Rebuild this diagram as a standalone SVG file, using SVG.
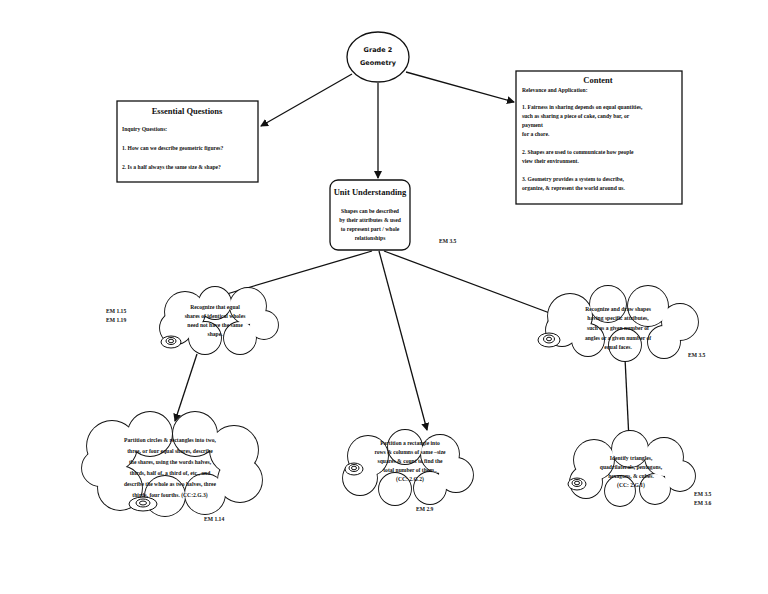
<svg xmlns="http://www.w3.org/2000/svg" xmlns:xlink="http://www.w3.org/1999/xlink" width="768" height="594" viewBox="0 0 768 594">
<style>
text{font-family:"Liberation Serif",serif;font-weight:bold;fill:#111;font-size:5.6px}
.t{font-size:8.5px}
.m{text-anchor:middle}
.box{fill:#fff;stroke:#111;stroke-width:1.3}
.o{fill:#fff;stroke:#111;stroke-width:1.8}
.i{fill:#fff;stroke:none}
.tail{fill:#fff;stroke:#111;stroke-width:1}
.ln{stroke:#111;stroke-width:1.3;fill:none;marker-end:url(#a)}
</style>
<defs>
<marker id="a" markerWidth="8" markerHeight="8" refX="7" refY="4" orient="auto" markerUnits="userSpaceOnUse"><path d="M0,0 L8,4 L0,8 z" fill="#111"/></marker>
<g id="c1"><circle cx="185" cy="312" r="20"/><circle cx="215" cy="303" r="16"/><circle cx="248" cy="306" r="18"/><circle cx="264" cy="325" r="14"/><circle cx="240" cy="338" r="16"/><circle cx="205" cy="338" r="16"/><circle cx="176" cy="328" r="16"/></g>
<g id="c2"><circle cx="112" cy="446" r="25"/><circle cx="150" cy="434" r="22"/><circle cx="195" cy="434" r="22"/><circle cx="234" cy="450" r="24"/><circle cx="240" cy="480" r="22"/><circle cx="205" cy="494" r="20"/><circle cx="165" cy="496" r="20"/><circle cx="120" cy="488" r="22"/><circle cx="100" cy="468" r="18"/></g>
<g id="c3"><circle cx="368" cy="456" r="20"/><circle cx="405" cy="447" r="17"/><circle cx="440" cy="454" r="19"/><circle cx="456" cy="475" r="17"/><circle cx="430" cy="488" r="16"/><circle cx="395" cy="489" r="16"/><circle cx="360" cy="478" r="17"/></g>
<g id="c4"><circle cx="570" cy="316" r="22"/><circle cx="608" cy="304" r="18"/><circle cx="648" cy="306" r="20"/><circle cx="680" cy="322" r="18"/><circle cx="664" cy="342" r="16"/><circle cx="625" cy="345" r="16"/><circle cx="588" cy="340" r="16"/><circle cx="562" cy="330" r="16"/></g>
<g id="c5"><circle cx="594" cy="460" r="20"/><circle cx="630" cy="449" r="18"/><circle cx="664" cy="457" r="19"/><circle cx="680" cy="476" r="15"/><circle cx="655" cy="489" r="15"/><circle cx="620" cy="491" r="15"/><circle cx="586" cy="482" r="16"/></g>
</defs>
<g id="connectors">
<line class="ln" x1="352" y1="74" x2="261" y2="126"/>
<line class="ln" x1="378" y1="83" x2="378" y2="178"/>
<line class="ln" x1="406" y1="72" x2="514" y2="102"/>
<line class="ln" x1="372" y1="251" x2="220" y2="296"/>
<line class="ln" x1="379" y1="251" x2="427" y2="430"/>
<line class="ln" x1="384" y1="251" x2="563" y2="318"/>
<line class="ln" x1="197" y1="354" x2="175" y2="421"/>
<line class="ln" x1="625" y1="358" x2="629" y2="440"/>
</g>
<g id="root"><ellipse class="box" cx="378" cy="57" rx="31" ry="25"/><text class="m" x="378" y="52" style="font-family:'DejaVu Sans',sans-serif;font-size:6.5px">Grade 2</text><text class="m" x="378" y="65" style="font-family:'DejaVu Sans',sans-serif;font-size:6.5px">Geometry</text></g>
<g id="eq"><rect class="box" x="117" y="101" width="141" height="81"/><text class="t m" x="187" y="114">Essential Questions</text><text x="122" y="131">Inquiry Questions:</text><text x="122" y="150">1. How can we describe geometric figures?</text><text x="122" y="169">2. Is a half always the same size &amp; shape?</text></g>
<g id="content"><rect class="box" x="516" y="71" width="166" height="133"/><text class="t m" x="598" y="83">Content</text><text x="522" y="92">Relevance and Application:</text><text x="522" y="109">1. Fairness in sharing depends on equal quantities,</text><text x="522" y="118">such as sharing a piece of cake, candy bar, or</text><text x="522" y="127">payment</text><text x="522" y="136">for a chore.</text><text x="522" y="154">2. Shapes are used to communicate how people</text><text x="522" y="163">view their environment.</text><text x="522" y="181">3. Geometry provides a system to describe,</text><text x="522" y="190">organize, &amp; represent the world around us.</text></g>
<g id="unit"><rect class="box" x="330" y="180" width="80" height="70" rx="8"/><text class="t m" x="370" y="195">Unit Understanding</text><text class="m" x="370" y="213">Shapes can be described</text><text class="m" x="370" y="222">by their attributes &amp; used</text><text class="m" x="370" y="231">to represent part / whole</text><text class="m" x="370" y="240">relationships</text><text x="439" y="243">EM 3.5</text></g>
<g id="cloud1"><use xlink:href="#c1" class="o"/><use xlink:href="#c1" class="i"/><ellipse class="tail" cx="171" cy="342" rx="10" ry="6"/><ellipse class="tail" cx="171" cy="341" rx="5" ry="3.5"/><ellipse class="tail" cx="171" cy="341" rx="2.5" ry="1.8"/>
<text class="m" x="215" y="309">Recognize that equal</text><text class="m" x="215" y="318">shares of identical wholes</text><text class="m" x="215" y="327">need not have the same</text><text class="m" x="215" y="336">shape.</text><text x="106" y="313">EM 1.15</text><text x="106" y="322">EM 1.19</text></g>
<g id="cloud2"><use xlink:href="#c2" class="o"/><use xlink:href="#c2" class="i"/><ellipse class="tail" cx="143" cy="504" rx="14" ry="7"/><ellipse class="tail" cx="143" cy="503" rx="7" ry="4"/><ellipse class="tail" cx="143" cy="503" rx="3.5" ry="2"/>
<text class="m" x="170" y="442">Partition circles &amp; rectangles into two,</text><text class="m" x="170" y="453">three, or four equal shares, describe</text><text class="m" x="170" y="464">the shares, using the words halves,</text><text class="m" x="170" y="475">thirds, half of, a third of, etc., and</text><text class="m" x="170" y="486">describe the whole as two halves, three</text><text class="m" x="170" y="497">thirds, four fourths. (CC:2.G.3)</text><text x="204" y="521">EM 1.14</text></g>
<g id="cloud3"><use xlink:href="#c3" class="o"/><use xlink:href="#c3" class="i"/><ellipse class="tail" cx="354" cy="469" rx="9" ry="6"/><ellipse class="tail" cx="354" cy="468" rx="5" ry="3.5"/><ellipse class="tail" cx="354" cy="468" rx="2.5" ry="1.8"/>
<text class="m" x="410" y="445">Partition a rectangle into</text><text class="m" x="410" y="454">rows &amp; columns of same –size</text><text class="m" x="410" y="463">squares &amp; count to find the</text><text class="m" x="410" y="472">total number of them..</text><text class="m" x="410" y="481">(CC: 2.G.2)</text><text x="416" y="511">EM 2.9</text></g>
<g id="cloud4"><use xlink:href="#c4" class="o"/><use xlink:href="#c4" class="i"/><ellipse class="tail" cx="549" cy="340" rx="11" ry="7"/><ellipse class="tail" cx="549" cy="339" rx="5.5" ry="4"/><ellipse class="tail" cx="549" cy="339" rx="2.5" ry="1.8"/>
<text class="m" x="618" y="311">Recognize and draw shapes</text><text class="m" x="618" y="320">having specific attributes,</text><text class="m" x="618" y="330">such as a given number of</text><text class="m" x="618" y="340">angles or a given number of</text><text class="m" x="618" y="349">equal faces.</text><text x="688" y="357">EM 3.5</text></g>
<g id="cloud5"><use xlink:href="#c5" class="o"/><use xlink:href="#c5" class="i"/><ellipse class="tail" cx="577" cy="484" rx="9" ry="6"/><ellipse class="tail" cx="577" cy="483" rx="5" ry="3.5"/><ellipse class="tail" cx="577" cy="483" rx="2.5" ry="1.8"/>
<text class="m" x="631" y="460">Identify triangles,</text><text class="m" x="631" y="469">quadrilaterals, pentagons,</text><text class="m" x="631" y="478">hexagons, &amp; cubes.</text><text class="m" x="631" y="487">(CC: 2.G.1)</text><text x="694" y="496">EM 3.5</text><text x="694" y="505">EM 3.6</text></g>
</svg>
